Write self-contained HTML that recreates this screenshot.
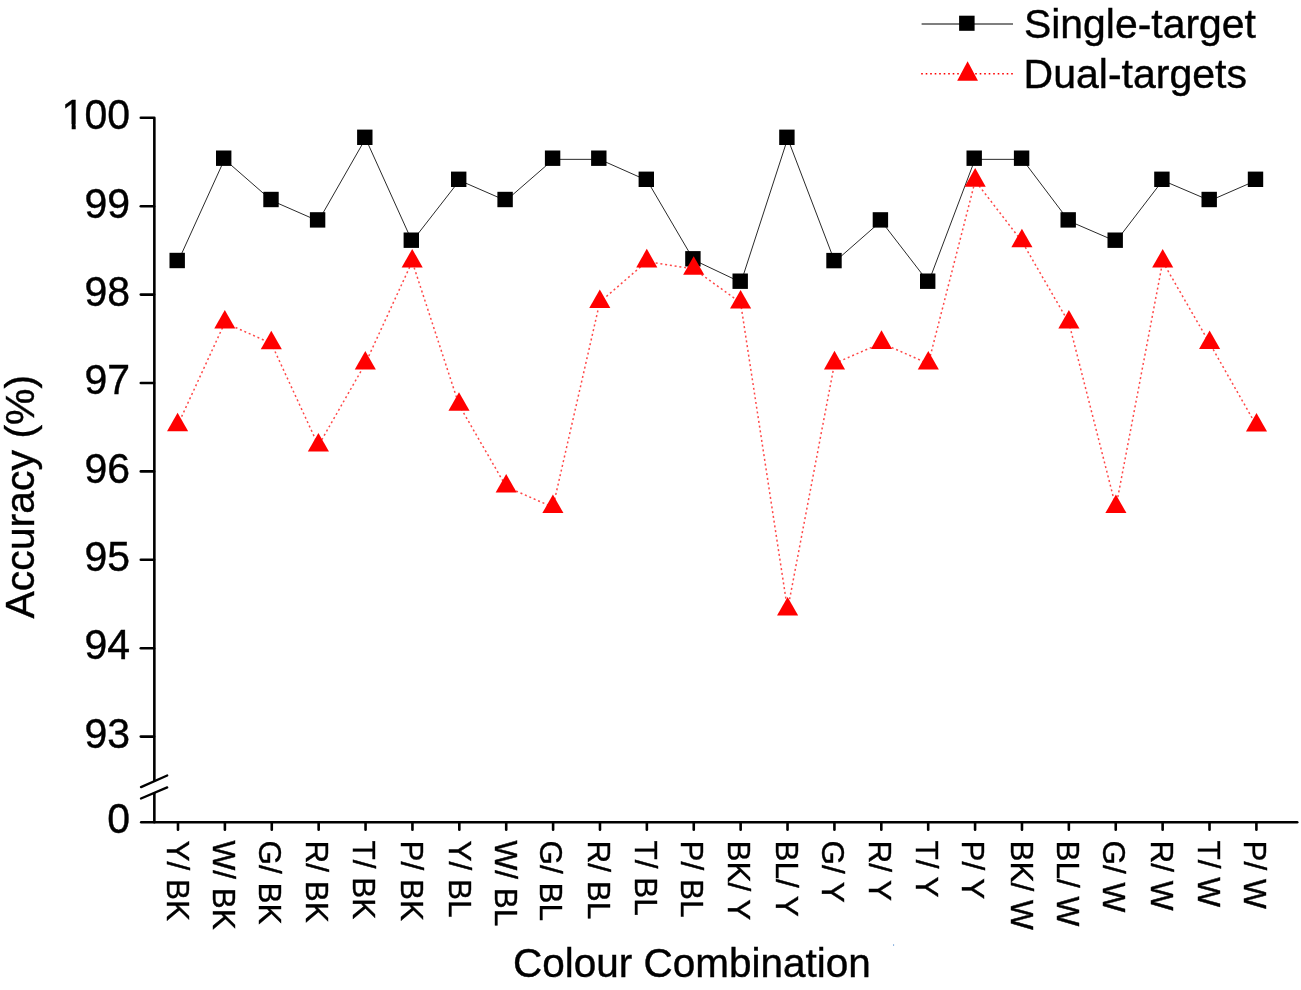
<!DOCTYPE html>
<html><head><meta charset="utf-8"><title>Accuracy chart</title><style>
html,body{margin:0;padding:0;background:#fff;overflow:hidden;}
svg{display:block;}
text{font-family:"Liberation Sans", Arial, sans-serif;fill:#000;stroke:#000;stroke-width:0.4px;}
</style></head><body>
<svg width="1301" height="990" viewBox="0 0 1301 990">
<rect width="1301" height="990" fill="#fff"/>
<g stroke="#000" stroke-width="2.6" fill="none" stroke-linecap="round" stroke-linejoin="round">
<path d="M140.8,117.8 H154.35 V780.6"/>
<path d="M154.35,793.3 V822.3"/>
<path d="M141.2,822.3 H1297.2"/>
<path d="M140.8,206.2 H154"/>
<path d="M140.8,294.6 H154"/>
<path d="M140.8,383 H154"/>
<path d="M140.8,471.4 H154"/>
<path d="M140.8,559.8 H154"/>
<path d="M140.8,648.2 H154"/>
<path d="M140.8,736.6 H154"/>
<path d="M178,822.3 V829.8"/>
<path d="M224.89,822.3 V829.8"/>
<path d="M271.77,822.3 V829.8"/>
<path d="M318.66,822.3 V829.8"/>
<path d="M365.55,822.3 V829.8"/>
<path d="M412.44,822.3 V829.8"/>
<path d="M459.32,822.3 V829.8"/>
<path d="M506.21,822.3 V829.8"/>
<path d="M553.1,822.3 V829.8"/>
<path d="M599.98,822.3 V829.8"/>
<path d="M646.87,822.3 V829.8"/>
<path d="M693.76,822.3 V829.8"/>
<path d="M740.64,822.3 V829.8"/>
<path d="M787.53,822.3 V829.8"/>
<path d="M834.42,822.3 V829.8"/>
<path d="M881.31,822.3 V829.8"/>
<path d="M928.19,822.3 V829.8"/>
<path d="M975.08,822.3 V829.8"/>
<path d="M1021.97,822.3 V829.8"/>
<path d="M1068.85,822.3 V829.8"/>
<path d="M1115.74,822.3 V829.8"/>
<path d="M1162.63,822.3 V829.8"/>
<path d="M1209.51,822.3 V829.8"/>
<path d="M1256.4,822.3 V829.8"/>
<path d="M141,787.1 L167.2,775.5" stroke-width="2.3"/>
<path d="M141,798.5 L167.2,787.4" stroke-width="2.3"/>
</g>
<g font-size="41" text-anchor="end">
<text transform="translate(130,129) scale(1,1.04)">100</text>
<text transform="translate(130,218.2) scale(1,1.04)">99</text>
<text transform="translate(130,305.8) scale(1,1.04)">98</text>
<text transform="translate(130,394.2) scale(1,1.04)">97</text>
<text transform="translate(130,482.6) scale(1,1.04)">96</text>
<text transform="translate(130,571) scale(1,1.04)">95</text>
<text transform="translate(130,659.4) scale(1,1.04)">94</text>
<text transform="translate(130,747.8) scale(1,1.04)">93</text>
<text transform="translate(130,833.2) scale(1,1.04)">0</text>
</g>
<rect x="63.05" y="124.18" width="8.63" height="6.02" fill="#fff"/>
<rect x="75.7" y="124.18" width="8.23" height="6.02" fill="#fff"/>
<g font-size="31.5">
<text transform="translate(166.7,840.4) rotate(90)">Y/ BK</text>
<text transform="translate(212.59,840.4) rotate(90)">W/ BK</text>
<text transform="translate(259.47,840.4) rotate(90)">G/ BK</text>
<text transform="translate(306.36,840.4) rotate(90)">R/ BK</text>
<text transform="translate(353.25,840.4) rotate(90)">T/ BK</text>
<text transform="translate(401.13,840.4) rotate(90)">P/ BK</text>
<text transform="translate(449.02,840.4) rotate(90)">Y/ BL</text>
<text transform="translate(494.91,840.4) rotate(90)">W/ BL</text>
<text transform="translate(540.3,840.4) rotate(90)">G/ BL</text>
<text transform="translate(587.68,840.4) rotate(90)">R/ BL</text>
<text transform="translate(634.57,840.4) rotate(90)">T/ BL</text>
<text transform="translate(681.46,840.4) rotate(90)">P/ BL</text>
<text transform="translate(728.34,840.4) rotate(90)">BK/ Y</text>
<text transform="translate(776.23,840.4) rotate(90)">BL/ Y</text>
<text transform="translate(822.12,840.4) rotate(90)">G/ Y</text>
<text transform="translate(869.01,840.4) rotate(90)">R/ Y</text>
<text transform="translate(915.89,840.4) rotate(90)">T/ Y</text>
<text transform="translate(961.78,840.4) rotate(90)">P/ Y</text>
<text transform="translate(1010.67,840.4) rotate(90)">BK/ W</text>
<text transform="translate(1056.55,840.4) rotate(90)">BL/ W</text>
<text transform="translate(1103.44,840.4) rotate(90)">G/ W</text>
<text transform="translate(1151.33,840.4) rotate(90)">R/ W</text>
<text transform="translate(1198.21,840.4) rotate(90)">T/ W</text>
<text transform="translate(1244.1,840.4) rotate(90)">P/ W</text>
</g>
<text x="512.9" y="976.6" font-size="40.5">Colour Combination</text>
<text transform="translate(34.2,618.6) rotate(-90)" font-size="41">Accuracy (%)</text>
<polyline points="178,261.65 224.5,159.35 271.8,200.65 318.4,221.05 365.6,138.45 412.1,241.35 459.5,180.45 505.9,200.65 553.4,159.35 599.6,159.35 647.1,180.45 693.7,259.95 741,282.35 787.7,138.45 834.8,261.75 881.2,221.05 928.5,282.35 975,159.35 1022.4,159.35 1069,221.05 1116,241.35 1162.7,180.45 1210,200.65 1256.3,180.45" fill="none" stroke="#2a2a2a" stroke-width="1" stroke-linejoin="round"/>
<rect x="169.5" y="252.8" width="15.4" height="15.4" fill="#000"/>
<rect x="216" y="150.5" width="15.4" height="15.4" fill="#000"/>
<rect x="263.3" y="191.8" width="15.4" height="15.4" fill="#000"/>
<rect x="309.9" y="212.2" width="15.4" height="15.4" fill="#000"/>
<rect x="357.1" y="129.6" width="15.4" height="15.4" fill="#000"/>
<rect x="403.6" y="232.5" width="15.4" height="15.4" fill="#000"/>
<rect x="451" y="171.6" width="15.4" height="15.4" fill="#000"/>
<rect x="497.4" y="191.8" width="15.4" height="15.4" fill="#000"/>
<rect x="544.9" y="150.5" width="15.4" height="15.4" fill="#000"/>
<rect x="591.1" y="150.5" width="15.4" height="15.4" fill="#000"/>
<rect x="638.6" y="171.6" width="15.4" height="15.4" fill="#000"/>
<rect x="685.2" y="251.1" width="15.4" height="15.4" fill="#000"/>
<rect x="732.5" y="273.5" width="15.4" height="15.4" fill="#000"/>
<rect x="779.2" y="129.6" width="15.4" height="15.4" fill="#000"/>
<rect x="826.3" y="252.9" width="15.4" height="15.4" fill="#000"/>
<rect x="872.7" y="212.2" width="15.4" height="15.4" fill="#000"/>
<rect x="920" y="273.5" width="15.4" height="15.4" fill="#000"/>
<rect x="966.5" y="150.5" width="15.4" height="15.4" fill="#000"/>
<rect x="1013.9" y="150.5" width="15.4" height="15.4" fill="#000"/>
<rect x="1060.5" y="212.2" width="15.4" height="15.4" fill="#000"/>
<rect x="1107.5" y="232.5" width="15.4" height="15.4" fill="#000"/>
<rect x="1154.2" y="171.6" width="15.4" height="15.4" fill="#000"/>
<rect x="1201.5" y="191.8" width="15.4" height="15.4" fill="#000"/>
<rect x="1247.8" y="171.6" width="15.4" height="15.4" fill="#000"/>
<polyline points="177.6,425.4 224.8,322.7 271.3,343.4 318.4,445.6 365.3,363.6 412.2,261.6 459,404.9 506.2,486.7 552.9,507.2 599.8,302.2 646.8,261.5 693.7,268.9 740.6,302.7 787.6,609.7 834.5,363.5 881.5,343 928.3,363.7 975.2,180.8 1021.9,241.4 1068.9,322.7 1115.9,507.2 1162.7,261.7 1209.6,343.2 1256.5,425.7" fill="none" stroke="#f00" stroke-opacity="0.72" stroke-width="1.5" stroke-dasharray="2 2.8"/>
<path d="M177.6,412.7 L188.15,431.3 L167.05,431.3 Z" fill="#f00"/>
<path d="M224.8,310 L235.35,328.6 L214.25,328.6 Z" fill="#f00"/>
<path d="M271.3,330.7 L281.85,349.3 L260.75,349.3 Z" fill="#f00"/>
<path d="M318.4,432.9 L328.95,451.5 L307.85,451.5 Z" fill="#f00"/>
<path d="M365.3,350.9 L375.85,369.5 L354.75,369.5 Z" fill="#f00"/>
<path d="M412.2,248.9 L422.75,267.5 L401.65,267.5 Z" fill="#f00"/>
<path d="M459,392.2 L469.55,410.8 L448.45,410.8 Z" fill="#f00"/>
<path d="M506.2,474 L516.75,492.6 L495.65,492.6 Z" fill="#f00"/>
<path d="M552.9,494.5 L563.45,513.1 L542.35,513.1 Z" fill="#f00"/>
<path d="M599.8,289.5 L610.35,308.1 L589.25,308.1 Z" fill="#f00"/>
<path d="M646.8,248.8 L657.35,267.4 L636.25,267.4 Z" fill="#f00"/>
<path d="M693.7,256.2 L704.25,274.8 L683.15,274.8 Z" fill="#f00"/>
<path d="M740.6,290 L751.15,308.6 L730.05,308.6 Z" fill="#f00"/>
<path d="M787.6,597 L798.15,615.6 L777.05,615.6 Z" fill="#f00"/>
<path d="M834.5,350.8 L845.05,369.4 L823.95,369.4 Z" fill="#f00"/>
<path d="M881.5,330.3 L892.05,348.9 L870.95,348.9 Z" fill="#f00"/>
<path d="M928.3,351 L938.85,369.6 L917.75,369.6 Z" fill="#f00"/>
<path d="M975.2,168.1 L985.75,186.7 L964.65,186.7 Z" fill="#f00"/>
<path d="M1021.9,228.7 L1032.45,247.3 L1011.35,247.3 Z" fill="#f00"/>
<path d="M1068.9,310 L1079.45,328.6 L1058.35,328.6 Z" fill="#f00"/>
<path d="M1115.9,494.5 L1126.45,513.1 L1105.35,513.1 Z" fill="#f00"/>
<path d="M1162.7,249 L1173.25,267.6 L1152.15,267.6 Z" fill="#f00"/>
<path d="M1209.6,330.5 L1220.15,349.1 L1199.05,349.1 Z" fill="#f00"/>
<path d="M1256.5,413 L1267.05,431.6 L1245.95,431.6 Z" fill="#f00"/>
<path d="M921.6,24.06 H1013" stroke="#000" stroke-width="1.1"/>
<rect x="959.1" y="15.7" width="15.5" height="15.1" fill="#000"/>
<path d="M921.2,73.7 H1013" stroke="#f00" stroke-width="1.4" stroke-dasharray="1.6 2.9"/>
<path d="M967.6,61.2 L978,80.7 L957.2,80.7 Z" fill="#f00"/>
<text x="1024" y="37.6" font-size="40.9">Single-target</text>
<text x="1023.6" y="87.9" font-size="41">Dual-targets</text>
<rect x="893" y="944.3" width="1.1" height="1.5" fill="#78a6da"/>
</svg>
</body></html>
